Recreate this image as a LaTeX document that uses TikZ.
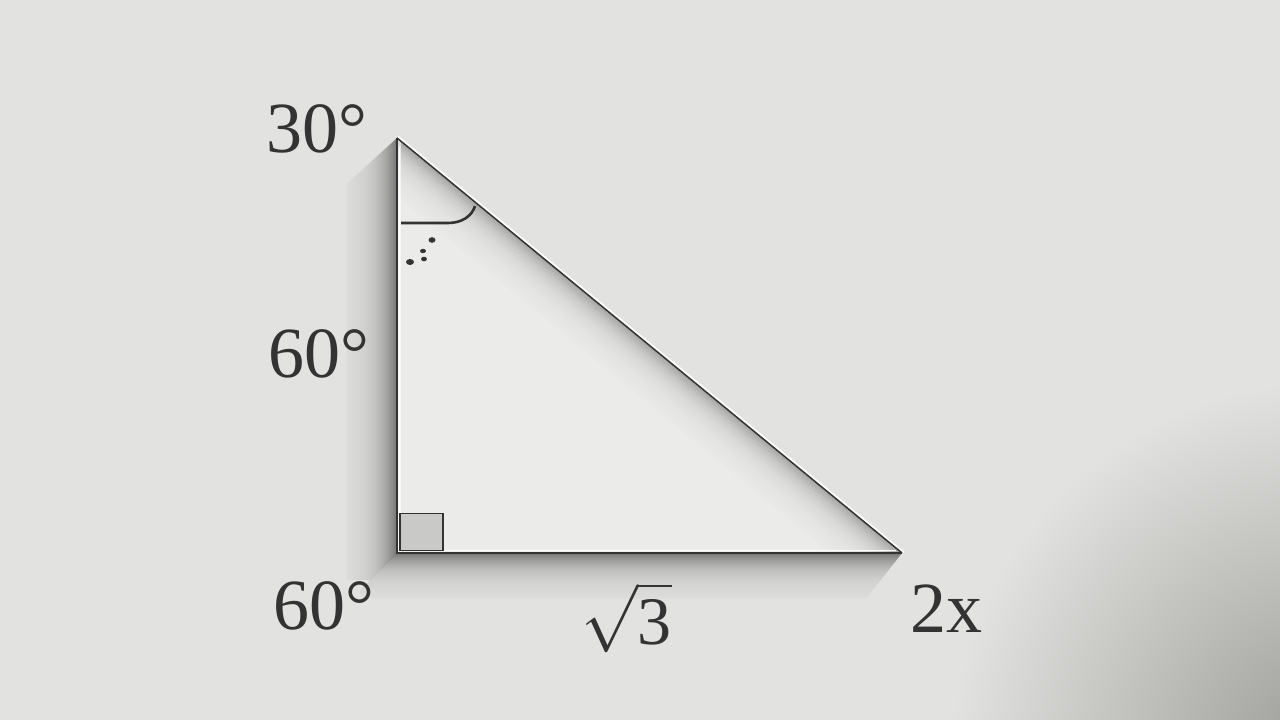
\documentclass[tikz,border=0pt]{standalone}
\usepackage{fontspec}
\usepackage{graphicx}
\setmainfont{Liberation Serif}
\usetikzlibrary{calc}
\definecolor{bg}{HTML}{E2E2E0}
\definecolor{ink}{HTML}{333333}
\definecolor{cornerc}{HTML}{9A9A96}
\tikzset{
  lbl/.style={anchor=base west, inner sep=0pt, text=ink, font=\fontsize{72}{72}\selectfont},
  edge/.style={draw=ink, line width=1.5pt},
  hilite/.style={draw=white, line width=1.6pt},
}
\begin{document}
\begin{tikzpicture}[x=1pt,y=-1pt]
\useasboundingbox (0,0) rectangle (1280,720);
\fill[bg] (0,0) rectangle (1280,720);
% bottom-right darker corner
\begin{scope}
\clip (0,0) rectangle (1280,720);
\shade[inner color=cornerc, outer color=bg] (1330,760) circle (380);
\end{scope}
% triangle vertices
\coordinate (A) at (397,138);
\coordinate (B) at (397,553);
\coordinate (C) at (902,553);
\fill[bg!70!white] (A) -- (B) -- (C) -- cycle;
% outer shadow left of vertical edge
\begin{scope}
\clip (397,138) -- (397,553) -- (345,605) -- (340,190) -- cycle;
\foreach \i in {1,...,50} {
  \draw[black, line width=1.1pt, opacity={0.28*exp(-\i/16)}] ({397-\i},130) -- ({397-\i},580);
}
\end{scope}
% outer shadow below horizontal edge
\begin{scope}
\clip (397,553) -- (902,553) -- (865,600) -- (350,600) -- cycle;
\foreach \i in {1,...,45} {
  \draw[black, line width=1.1pt, opacity={0.28*exp(-\i/14)}] (360,{553+\i}) -- (910,{553+\i});
}
\end{scope}
% inner shadow along hypotenuse
\begin{scope}
\clip (A) -- (B) -- (C) -- cycle;
\foreach \i in {1,...,45} {
  \draw[black, line width=1.2pt, opacity={0.24*exp(-\i/13)}] ($(A)+({-\i*0.635},{\i*0.773})$) -- ($(C)+({-\i*0.635},{\i*0.773})$);
}
% inner highlight along vertical edge
\fill[white, opacity=0.6] (397,138) rectangle (401,553);
\end{scope}
% edges
\draw[hilite] ($(A)+(1.2,-1.5)$) -- ($(C)+(2.2,-0.6)$);
\draw[edge] (A) -- (C);
\draw[edge] (A) -- (B) -- (C);
\draw[white, line width=1.2pt] (399.5,147) -- (399.5,550);
\draw[white, line width=1.2pt] (400,550.5) -- (896,550.5);
% right-angle square
\node[draw=ink, line width=1.5pt, fill=bg!75!gray, minimum width=43pt, minimum height=37pt, inner sep=0pt, anchor=south west] (sq) at (399,551) {};
% angle arc at top
\draw[ink, line width=2.6pt] (401,223) -- (448,223) .. controls (462,223) and (472,216) .. (475,206);
% small marks under arc
\fill[ink] (432,240) ellipse (3.5pt and 2.8pt);
\fill[ink] (423,251) ellipse (3pt and 2.2pt);
\fill[ink] (410,262) ellipse (4pt and 3pt);
\fill[ink] (424,259) ellipse (3pt and 2.3pt);
% labels
\node[lbl] (l30) at (266,152) {30°};
\node[lbl] (l60a) at (268,377) {60°};
\node[lbl] (l60b) at (273,629) {60°};
\node[anchor=base west, inner sep=0pt, text=ink] (lr3) at (581,644) {\scalebox{6.8}{$\sqrt{\mbox{3}}$}};
\node[lbl] (l2x) at (910,632) {2x};
\end{tikzpicture}
\end{document}
